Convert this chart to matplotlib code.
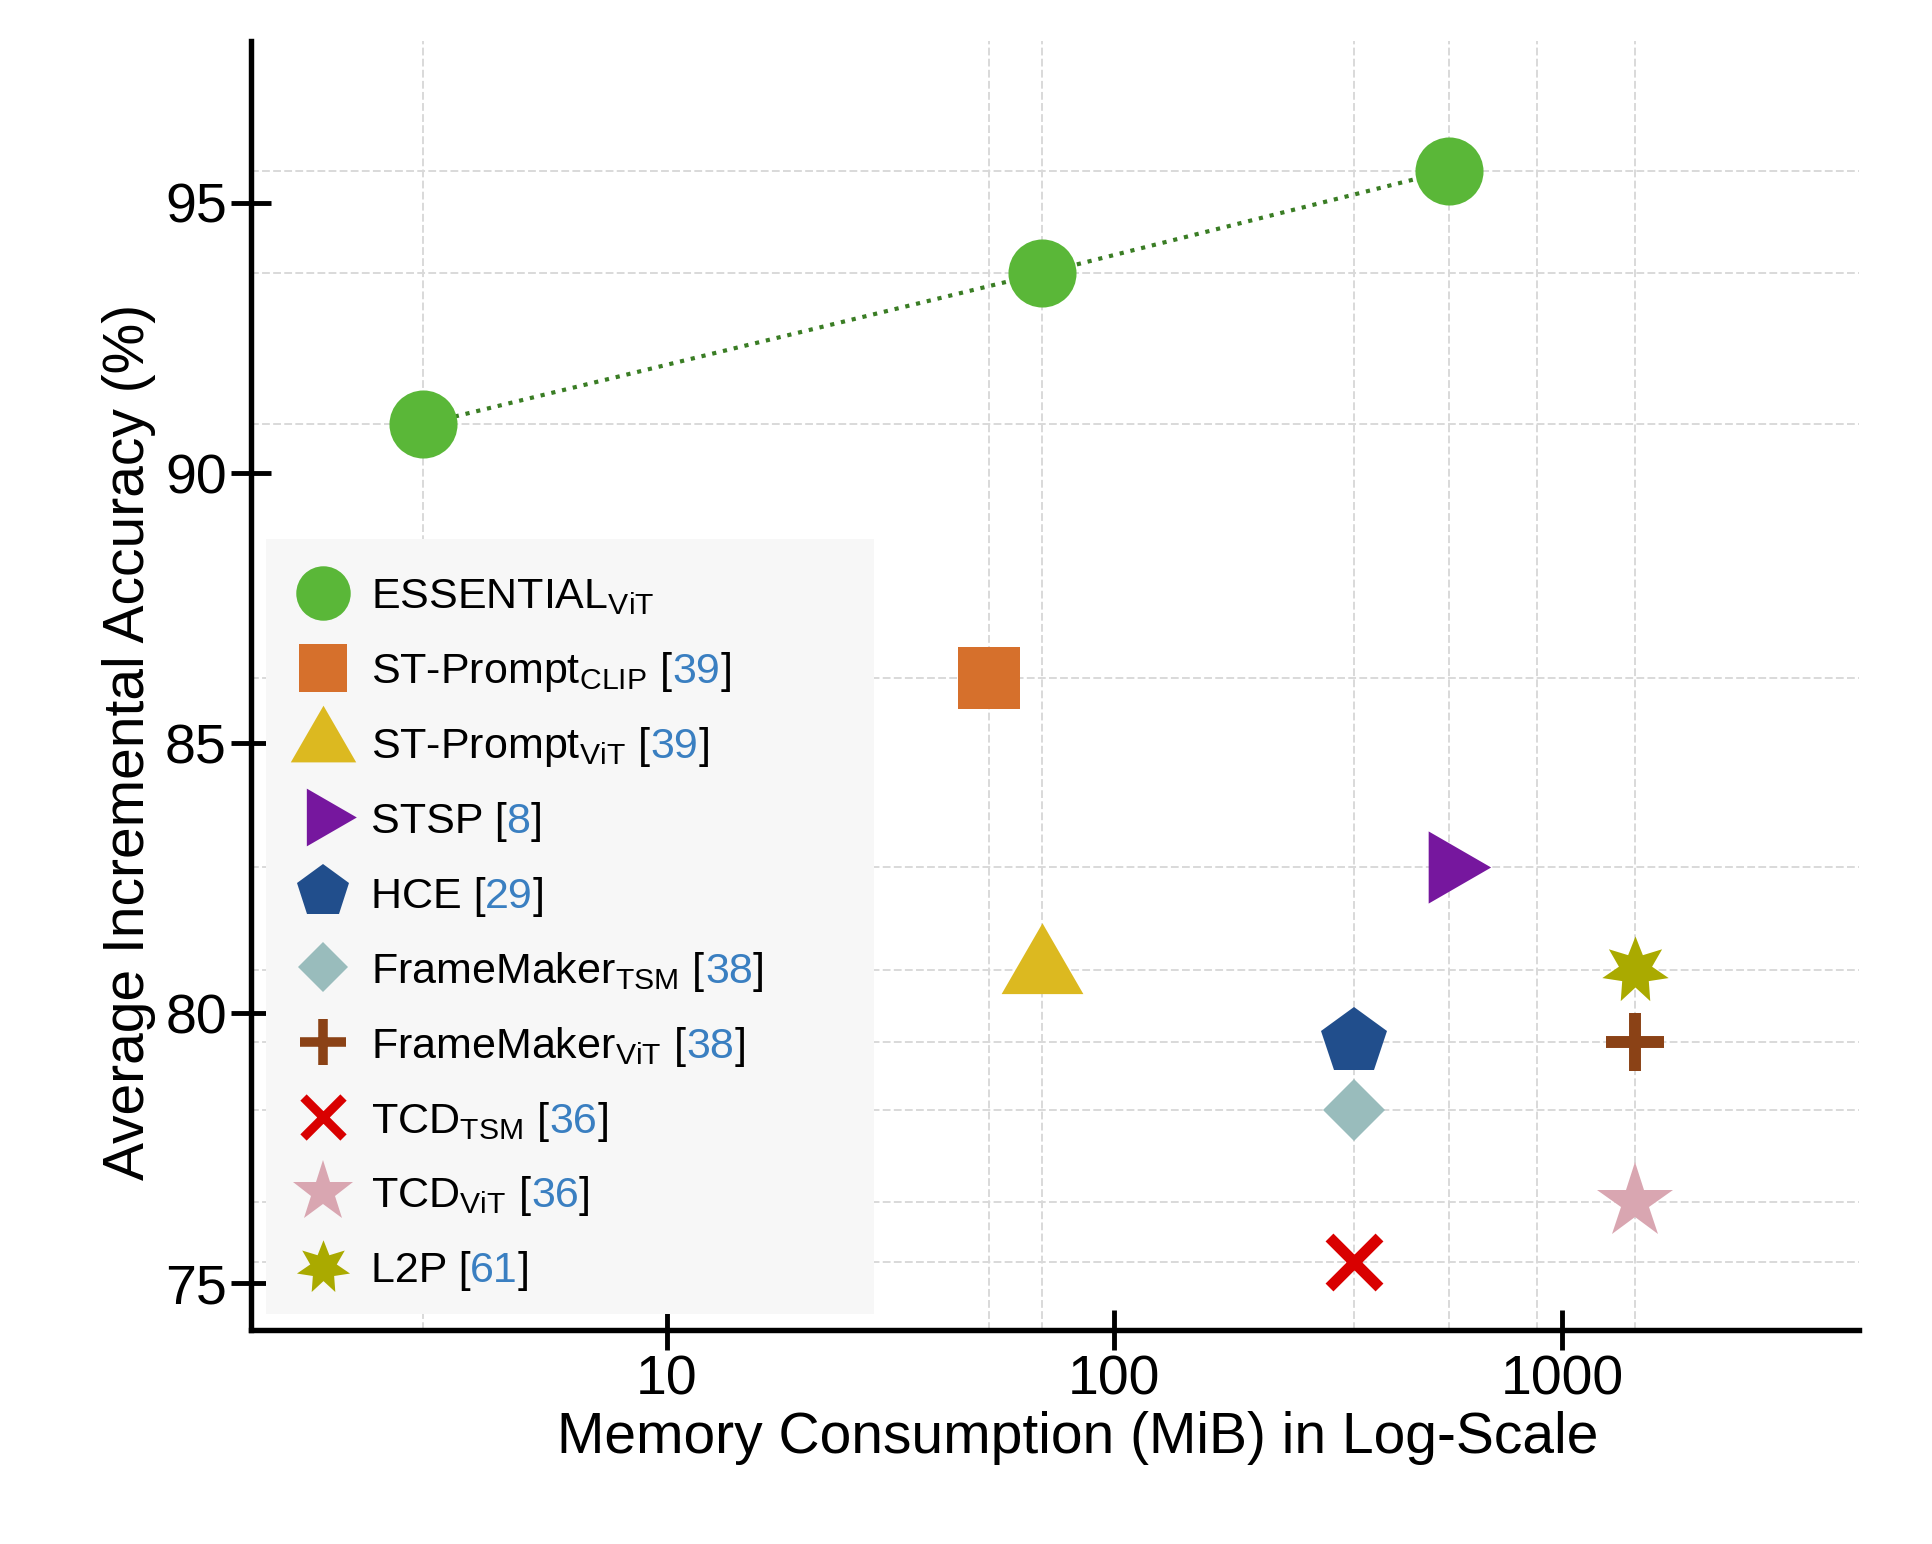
import numpy as np
import matplotlib
matplotlib.use('Agg')
import matplotlib.pyplot as plt
from matplotlib.ticker import FixedLocator, FixedFormatter, NullLocator
from matplotlib.patches import Rectangle
from matplotlib.transforms import offset_copy

plt.rcParams['font.family'] = ['Liberation Sans', 'DejaVu Sans']
plt.rcParams['mathtext.fontset'] = 'custom'
plt.rcParams['mathtext.rm'] = 'Liberation Sans'
plt.rcParams['mathtext.it'] = 'Liberation Sans:italic'

# ESSENTIAL (three memory budgets)
essential_mem = [2.85, 69, 560]
essential_acc = [90.9, 93.7, 95.6]

# other methods
method_names = ['ST-Prompt', 'ST-Prompt', 'STSP', 'HCE', 'FrameMaker', 'FrameMaker',
                'TCD', 'TCD', 'L2P']
method_subs = ['CLIP', 'ViT', '', '', 'TSM', 'ViT', 'TSM', 'ViT', '']
method_refs = ['39', '39', '8', '29', '38', '38', '36', '36', '61']
method_mem = [52.6, 69, 560, 343, 343, 1460, 343, 1460, 1460]
method_acc = [86.2, 80.8, 82.7, 79.46, 78.2, 79.46, 75.4, 76.5, 80.8]

# one more dashed reference line seen in the figure
extra_grid_mem = [880]

x_ticks = [10, 100, 1000]
y_ticks = [75, 80, 85, 90, 95]

#marker styles
tri_up = [(0, 1), (-0.866, -0.5), (0.866, -0.5), (0, 1)]
tri_right = [(1, 0), (-0.5, 0.866), (-0.5, -0.866), (1, 0)]
markers = ['s', tri_up, tri_right, 'p', 'D', '+', 'x', '*', (7, 1, 0)]
colors = ['#d6702c', '#dcb920', '#76179e', '#214e8c', '#99bcbc', '#8b4216',
          '#d90000', '#d9a6b1', '#aaaa00']
sizes = [44, 68, 60, 50, 32, 42, 36, 57, 49]
mews = [0, 0, 0, 0, 0, 8.6, 8, 0, 0]
ess_color = '#5ab738'
ref_color = '#3a7fc1'

fig = plt.figure(figsize=(19.32, 15.44), dpi=100)
ax = fig.add_axes([0.130, 0.1385, 0.832, 0.835])
ax.set_xscale('log')
ax.set_xlim(1.18, 4600)
ax.set_ylim(74.13, 98.0)

#dashed grid through the points
grid_kw = dict(color='#d9d9d9', lw=1.4, ls=(0, (4, 1.7)), zorder=0.5)
for gx in sorted(set(essential_mem + method_mem + extra_grid_mem)):
    ax.axvline(gx, **grid_kw)
for gy in sorted(set(essential_acc + method_acc)):
    ax.axhline(gy, **grid_kw)

ax.plot(essential_mem, essential_acc, ls=':', lw=3.0, color='#3a7d24', zorder=2)
ax.plot(essential_mem, essential_acc, ls='none', marker='o', ms=49, color=ess_color,
        mew=0, zorder=3)
for i in range(len(method_names)):
    ax.plot(method_mem[i], method_acc[i], ls='none', marker=markers[i], ms=sizes[i],
            color=colors[i], mec=colors[i], mew=mews[i], zorder=3)

#axes style
for s in ['top', 'right']:
    ax.spines[s].set_visible(False)
for s in ['left', 'bottom']:
    ax.spines[s].set_linewidth(3.9)
ax.xaxis.set_major_locator(FixedLocator(x_ticks))
ax.xaxis.set_major_formatter(FixedFormatter([str(t) for t in x_ticks]))
ax.xaxis.set_minor_locator(NullLocator())
ax.yaxis.set_major_locator(FixedLocator(y_ticks))
ax.tick_params(axis='both', direction='inout', length=29, width=3.5, labelsize=40, pad=3)
ax.set_xlabel('Memory Consumption (MiB) in Log-Scale', fontsize=41)
ax.set_ylabel('Average Incremental Accuracy (%)', fontsize=41)
ax.xaxis.set_label_coords(0.514, -0.063)
ax.yaxis.set_label_coords(-0.059, 0.456)

#legend drawn by hand (citation numbers are blue)
ax.add_patch(Rectangle((0.0092, 0.0124), 0.378, 0.601, transform=ax.transAxes,
                       facecolor='#f7f7f7', edgecolor='none', zorder=4))
leg_fs = 31
row_top = 0.572
row_step = 0.0581
mark_x = 0.0444
text_x = 0.0743
base_tr = offset_copy(ax.transAxes, fig=fig, y=-0.36 * leg_fs, units='points')

leg_labels = [r'ESSENTIAL$_{\mathrm{ViT}}$']
leg_refs = ['']
leg_markers = ['o'] + markers
leg_colors = [ess_color] + colors
leg_sizes = [49] + sizes
leg_mews = [0] + mews
for i in range(len(method_names)):
    lab = method_names[i]
    if method_subs[i]:
        lab += r'$_{\mathrm{%s}}$' % method_subs[i]
    leg_labels.append(lab + ' [')
    leg_refs.append(method_refs[i])

for i in range(len(leg_labels)):
    y = row_top - i * row_step
    ax.plot([mark_x], [y], transform=ax.transAxes, ls='none', marker=leg_markers[i],
            ms=leg_sizes[i] * 0.8, color=leg_colors[i], mec=leg_colors[i],
            mew=leg_mews[i] * 0.8, clip_on=False, zorder=5)
    t = ax.text(text_x, y, leg_labels[i], transform=base_tr, va='baseline',
                fontsize=leg_fs, zorder=5)
    if leg_refs[i]:
        t2 = ax.annotate(leg_refs[i], xy=(1, y), xycoords=(t, base_tr), va='baseline',
                         fontsize=leg_fs, color=ref_color, zorder=5)
        ax.annotate(']', xy=(1, y), xycoords=(t2, base_tr), va='baseline',
                    fontsize=leg_fs, zorder=5)

fig.savefig('out.png', dpi=100)
